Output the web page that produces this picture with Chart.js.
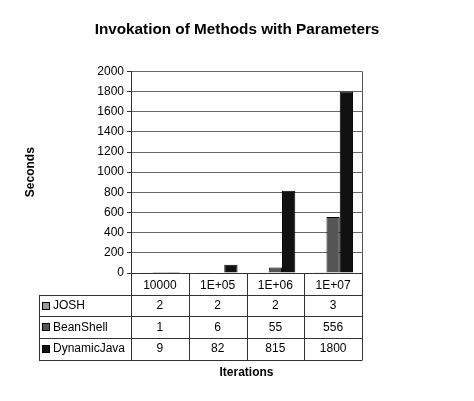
<!DOCTYPE html>
<html>
<head>
<meta charset="utf-8">
<script src="https://cdn.jsdelivr.net/npm/chart.js@4"></script>
<style>
  html, body { margin: 0; padding: 0; background: #fff; }
  #wrap { width: 474px; height: 401px; }
</style>
</head>
<body>
<div id="wrap"><canvas id="chart" width="474" height="401"></canvas></div>
<script>
// chart data
const iterations = ["10000", "1E+05", "1E+06", "1E+07"];
const seriesNames = ["JOSH", "BeanShell", "DynamicJava"];
const joshValues = [2, 2, 2, 3];
const beanShellValues = [1, 6, 55, 556];
const dynamicJavaValues = [9, 82, 815, 1800];
const seriesColors = ["#9a9a9a", "#555555", "#111111"];

const FONT = "'Liberation Sans', Arial, sans-serif";

// draws the data table under the plot, columns follow the x scale
const dataTablePlugin = {
    id: 'dataTable',
    afterDraw(chart) {
        const ctx = chart.ctx;
        const x = chart.scales.x;
        const area = chart.chartArea;
        const colW = x.width / iterations.length;
        const rowH = 21.7;
        const top = area.bottom;
        const legendLeft = 39;
        const rows = [joshValues, beanShellValues, dynamicJavaValues];

        ctx.save();
        ctx.strokeStyle = '#333';
        ctx.lineWidth = 1;
        ctx.beginPath();
        // horizontal lines
        for (let r = 0; r <= 4; r++) {
            const y = Math.round(top + r * rowH) + 0.5;
            ctx.moveTo(r === 0 ? area.left : legendLeft, y);
            ctx.lineTo(area.right, y);
        }
        // vertical lines
        for (let c = 0; c <= iterations.length; c++) {
            const xx = Math.round(x.left + c * colW) + 0.5;
            ctx.moveTo(xx, top);
            ctx.lineTo(xx, Math.round(top + 4 * rowH) + 0.5);
        }
        ctx.moveTo(legendLeft + 0.5, Math.round(top + rowH) + 0.5);
        ctx.lineTo(legendLeft + 0.5, Math.round(top + 4 * rowH) + 0.5);
        ctx.stroke();

        ctx.font = '12px ' + FONT;
        ctx.textBaseline = 'middle';
        rows.forEach((vals, r) => {
            const cy = top + (r + 1.5) * rowH;
            // legend swatch + name
            ctx.fillStyle = seriesColors[r];
            ctx.fillRect(42, Math.round(cy - 4), 8, 8);
            ctx.strokeStyle = '#000';
            ctx.strokeRect(42.5, Math.round(cy - 4) + 0.5, 7, 7);
            ctx.fillStyle = '#000';
            ctx.textAlign = 'left';
            ctx.fillText(seriesNames[r], 53, cy);
            ctx.textAlign = 'center';
            vals.forEach((v, c) => {
                ctx.fillText(String(v), x.getPixelForValue(c), cy);
            });
        });
        ctx.restore();
    }
};

new Chart(document.getElementById('chart'), {
    type: 'bar',
    data: {
        labels: iterations,
        datasets: [
            { label: seriesNames[0], data: joshValues, backgroundColor: seriesColors[0] },
            { label: seriesNames[1], data: beanShellValues, backgroundColor: seriesColors[1] },
            { label: seriesNames[2], data: dynamicJavaValues, backgroundColor: seriesColors[2] }
        ].map(d => Object.assign(d, {
            borderColor: '#000',
            borderWidth: 1,
            categoryPercentage: 0.69,
            barPercentage: 1
        }))
    },
    options: {
        responsive: false,
        animation: false,
        devicePixelRatio: 1,
        layout: { padding: 0 },
        plugins: {
            legend: { display: false },
            tooltip: { enabled: false },
            title: {
                display: true,
                text: 'Invokation of Methods with Parameters',
                color: '#000',
                font: { family: FONT, size: 15.3, weight: 'bold' },
                padding: { top: 21, bottom: 32 }
            }
        },
        scales: {
            x: {
                grid: { display: false, drawTicks: false },
                border: { display: false },
                ticks: { color: '#000', padding: 5, font: { family: FONT, size: 12 } },
                title: {
                    display: true,
                    text: 'Iterations',
                    color: '#000',
                    font: { family: FONT, size: 12, weight: 'bold' },
                    padding: { top: 0, bottom: 21 }
                },
                afterFit(scale) { scale.height = 128; }
            },
            y: {
                min: 0,
                max: 2000,
                ticks: {
                    stepSize: 200, color: '#000', padding: 3,
                    font: { family: FONT, size: 12 },
                    callback: v => String(v)
                },
                grid: { color: '#666', tickLength: 4, tickColor: '#333' },
                border: { color: '#333' },
                title: {
                    display: true,
                    text: 'Seconds',
                    color: '#000',
                    font: { family: FONT, size: 12, weight: 'bold' },
                    padding: { top: 23, bottom: 4 }
                },
                afterFit(scale) { scale.width = 131; }
            },
            // empty right axis keeps the space on the right of the plot
            spacer: {
                type: 'linear',
                position: 'right',
                display: true,
                grid: { display: false, drawTicks: false },
                border: { display: false },
                ticks: { display: false },
                afterFit(scale) { scale.width = 112; }
            }
        }
    },
    plugins: [dataTablePlugin, {
        id: 'rightBorder',
        afterDatasetsDraw(chart) {
            const a = chart.chartArea;
            const ctx = chart.ctx;
            ctx.save();
            ctx.strokeStyle = '#555';
            ctx.beginPath();
            ctx.moveTo(Math.round(a.right) + 0.5, a.top);
            ctx.lineTo(Math.round(a.right) + 0.5, a.bottom);
            ctx.stroke();
            ctx.restore();
        }
    }]
});
</script>
</body>
</html>
